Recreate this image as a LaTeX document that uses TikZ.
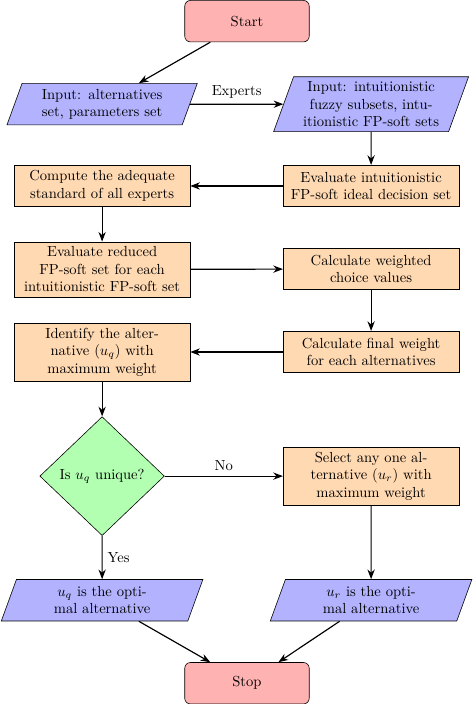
\documentclass[tikz,border=0pt]{standalone}
\usepackage{amsmath,amssymb}
\usepackage{tikz}
\usetikzlibrary{shapes.geometric,arrows.meta,calc}
\usepackage{xcolor}

\begin{document}
\begin{tikzpicture}[x=1cm,y=1cm,
  startstop/.style={rectangle,rounded corners,minimum width=3cm,minimum height=1cm,align=center,draw=black,fill=red!30},
  io/.style={trapezium,trapezium left angle=70,trapezium right angle=110,text width=3.5cm,minimum height=1cm,align=center,draw=black,fill=blue!30},
  process/.style={rectangle,text width=4cm,minimum height=1cm,align=center,draw=black,fill=orange!30},
  decision/.style={diamond,minimum width=3cm,minimum height=1cm,align=center,draw=black,fill=green!30},
  conn/.style={thick,-{Stealth}}]
\useasboundingbox (0,0) rectangle (11.42,-16.96);
% left column at x=2.46, right column at x=8.94
\node[startstop] (start) at (5.95,-0.51) {Start};
\node[io] (in1) at (2.46,-2.51) {Input: alternatives set, parameters set};
\node[io] (in2) at (8.94,-2.51) {Input: intuitionistic fuzzy subsets, intuitionistic FP-soft sets};
\node[process] (ideal) at (8.94,-4.48) {Evaluate intuitionistic FP-soft ideal decision set};
\node[process] (adequate) at (2.46,-4.48) {Compute the adequate standard of all experts};
\node[process] (reduced) at (2.46,-6.49) {Evaluate reduced FP-soft set for each intuitionistic FP-soft set};
\node[process] (choice) at (8.94,-6.48) {Calculate weighted choice values};
\node[process] (final) at (8.94,-8.48) {Calculate final weight for each alternatives};
\node[process] (maxq) at (2.46,-8.48) {Identify the alternative $(u_q)$ with maximum weight};
\node[decision] (unique) at (2.46,-11.47) {Is $u_q$ unique?};
\node[process] (maxr) at (8.94,-11.47) {Select any one alternative $(u_r)$ with maximum weight};
\node[io] (optq) at (2.46,-14.46) {$u_q$ is the optimal alternative};
\node[io] (optr) at (8.94,-14.46) {$u_r$ is the optimal alternative};
\node[startstop] (stop) at (5.95,-16.46) {Stop};

\draw[conn] (start) -- (in1);
\draw[conn] (in1) -- node[above] {Experts} (in2);
\draw[conn] (in2) -- (ideal);
\draw[conn] (ideal) -- (adequate);
\draw[conn] (adequate) -- (reduced);
\draw[conn] (reduced) -- (choice);
\draw[conn] (choice) -- (final);
\draw[conn] (final) -- (maxq);
\draw[conn] (maxq) -- (unique);
\draw[conn] (unique) -- node[above] {No} (maxr);
\draw[conn] (unique) -- node[right] {Yes} (optq);
\draw[conn] (maxr) -- (optr);
\draw[conn] (optq) -- (stop);
\draw[conn] (optr) -- (stop);
\end{tikzpicture}
\end{document}
